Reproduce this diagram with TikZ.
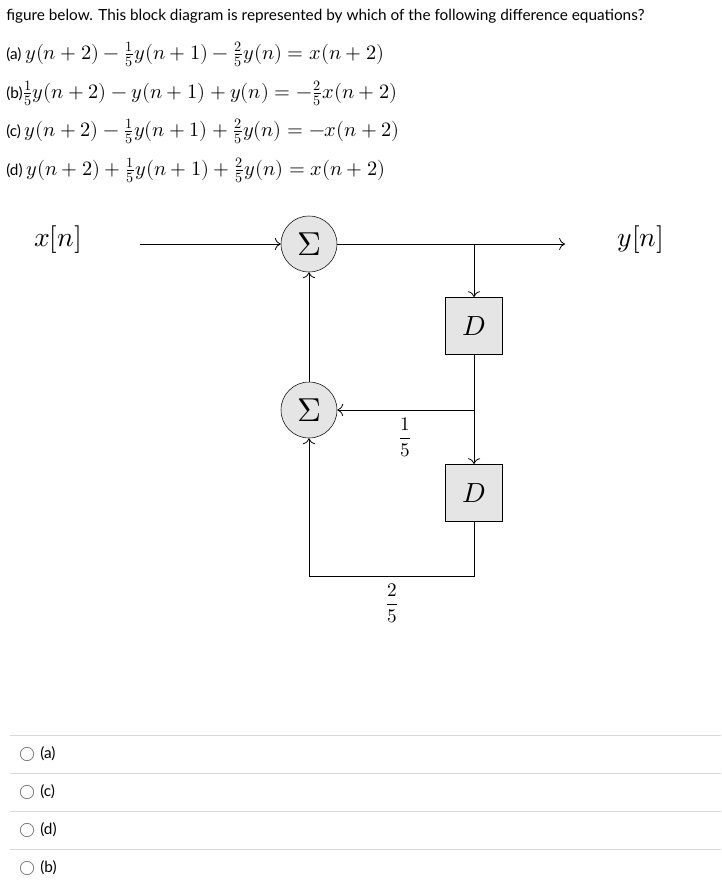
\documentclass[tikz,border=0pt]{standalone}
\usepackage{fontspec}
\setmainfont{Lato}
\usepackage{unicode-math}
\setmathfont{Latin Modern Math}
\usetikzlibrary{arrows.meta}
\newcommand{\bm}[1]{{\fontsize{15.3pt}{17pt}\selectfont$#1$}}
\begin{document}
\begin{tikzpicture}[x=0.75pt,y=-0.75pt,
  sumnode/.style={circle,draw,fill=gray!20,minimum size=42pt,inner sep=0pt,font=\Huge},
  delay/.style={draw,fill=gray!20,minimum size=43pt,inner sep=0pt,font=\huge},
  conn/.style={-{To[scale=1.5]},line width=0.6pt},
  txt/.style={anchor=west,inner sep=0pt,font=\fontsize{11.5pt}{13pt}\selectfont},
  sep/.style={draw=gray!30,line width=0.5pt}]
\useasboundingbox (0,0) rectangle (721,885);
\node[txt] (t0) at (6,16) {figure below. This block diagram is represented by which of the following difference equations?};
\node[txt] (ta) at (6,54) {(a) \bm{y(n+2)-\frac{1}{5}y(n+1)-\frac{2}{5}y(n)=x(n+2)}};
\node[txt] (tb) at (6,93) {(b)\bm{\frac{1}{5}y(n+2)-y(n+1)+y(n)=-\frac{2}{5}x(n+2)}};
\node[txt] (tc) at (6,131) {(c) \bm{y(n+2)-\frac{1}{5}y(n+1)+\frac{2}{5}y(n)=-x(n+2)}};
\node[txt] (td) at (6,170) {(d) \bm{y(n+2)+\frac{1}{5}y(n+1)+\frac{2}{5}y(n)=x(n+2)}};

\node[font=\huge] (x) at (58,240) {$x[n]$};
\node[font=\huge] (y) at (641,240) {$y[n]$};
\coordinate (xin) at (140,244);
\coordinate (yout) at (565,244);
\node[sumnode] (s1) at (309,244) {$\Sigma$};
\node[sumnode] (s2) at (309,410) {$\Sigma$};
\node[delay] (d1) at (474,326) {$D$};
\node[delay] (d2) at (474,493) {$D$};
\coordinate (b1) at (474,244);
\coordinate (b2) at (474,410);
\coordinate (c1) at (474,576);
\coordinate (c2) at (309,576);
\draw[conn] (xin) -- (s1);
\draw[conn] (s1) -- (yout);
\draw[conn] (b1) -- (d1);
\draw[conn] (d1) -- (b2) -- (s2);
\draw[conn] (b2) -- (d2);
\draw[conn] (d2) -- (c1) -- (c2) -- (s2);
\draw[conn] (s2) -- (s1);
\node[font=\Large] (f1) at (405,437) {$\dfrac{1}{5}$};
\node[font=\Large] (f2) at (392,603) {$\dfrac{2}{5}$};

\foreach \yy/\lab [count=\i] in {754/(a),792/(c),830/(d),868/(b)}{
  \draw[sep] (10,\yy-19) -- (721,\yy-19);
  \node[circle,draw=gray,line width=0.6pt,minimum size=10pt,inner sep=0pt] (r\i) at (27,\yy) {};
  \node[txt] (l\i) at (40,\yy) {\lab};
}
\end{tikzpicture}
\end{document}
